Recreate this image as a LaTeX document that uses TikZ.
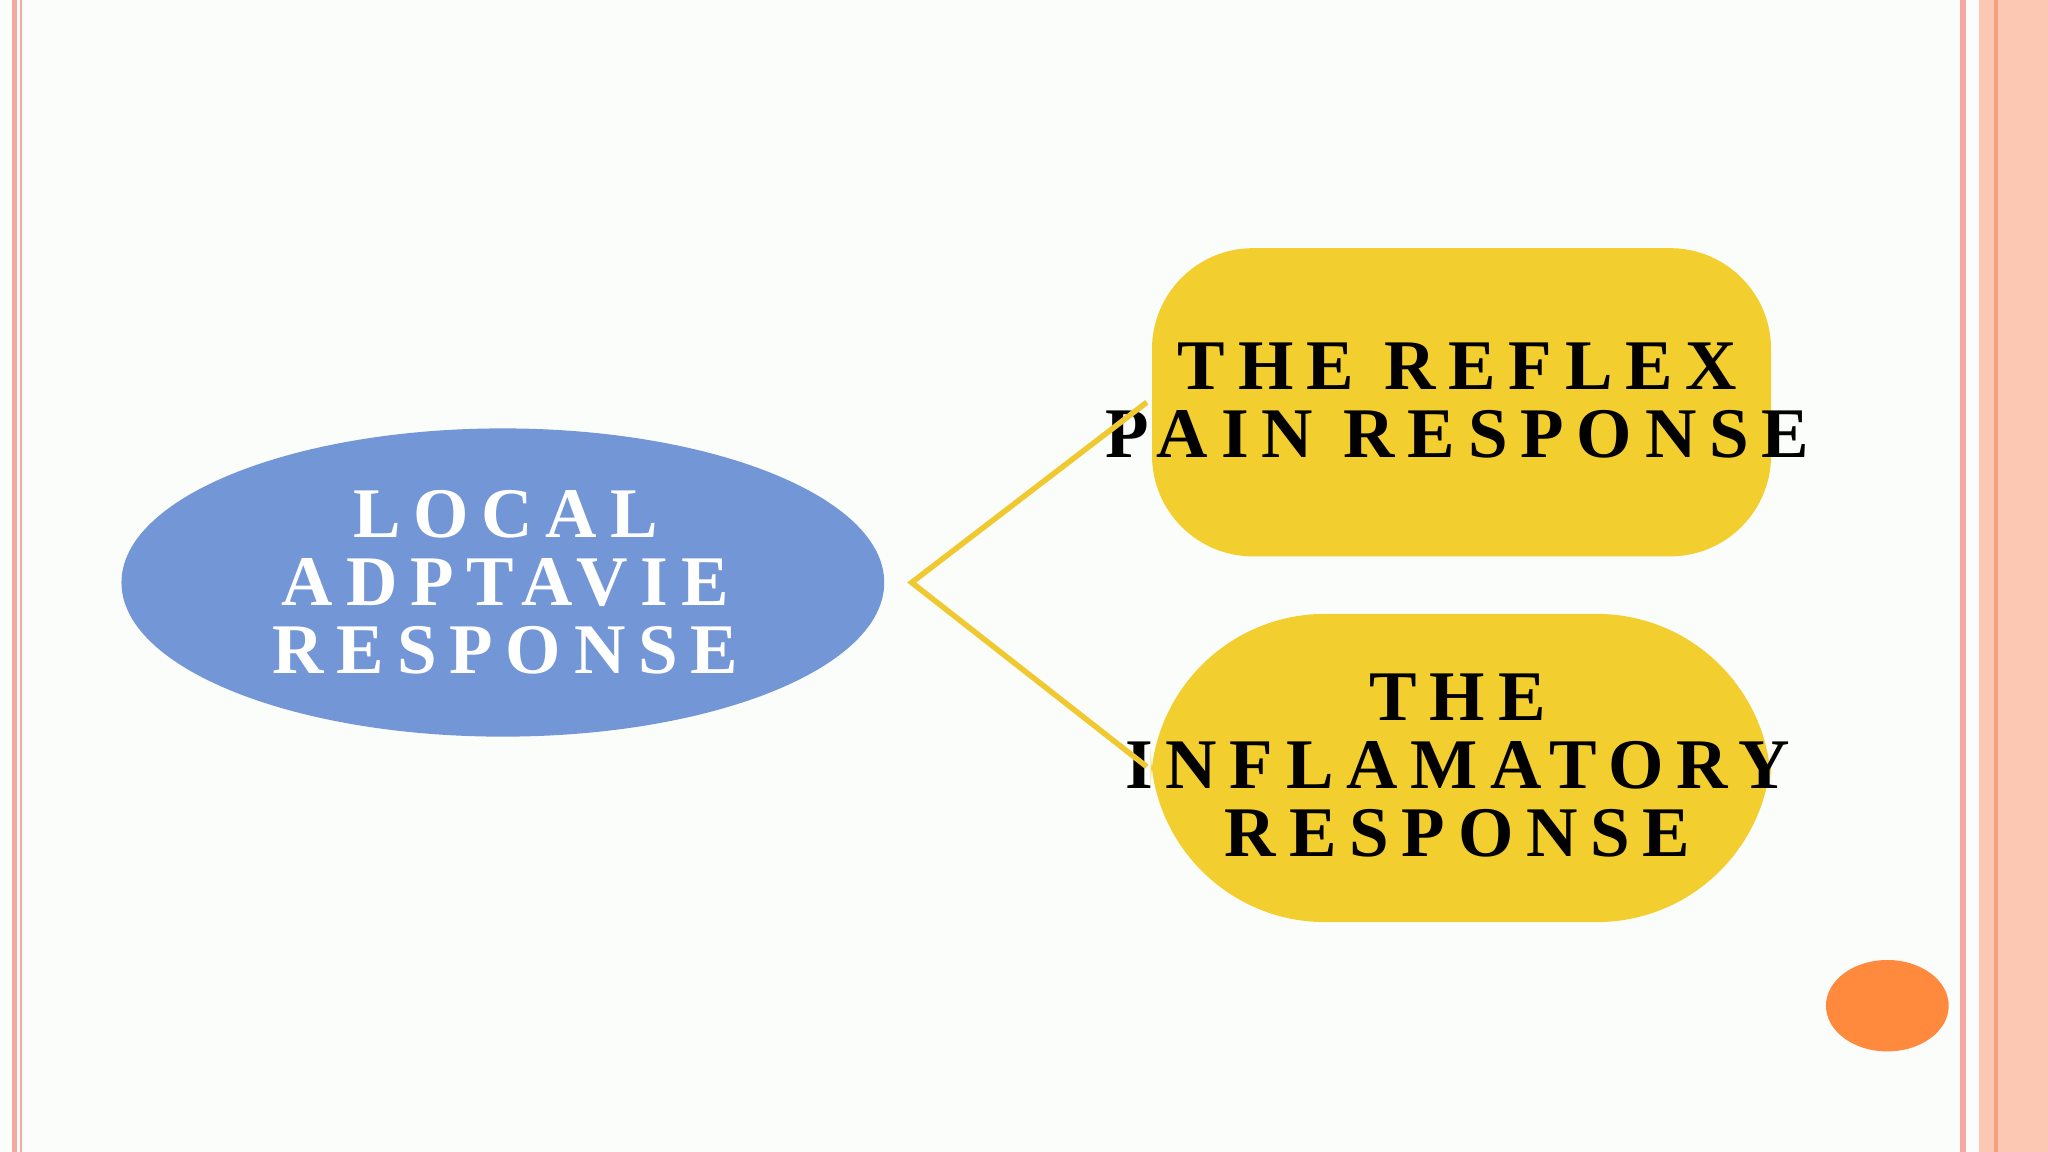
\documentclass[tikz,border=0pt]{standalone}
\usepackage{fontspec}
\setmainfont{Liberation Serif}
\begin{document}
\begin{tikzpicture}[x=0.01cm,y=-0.01cm,
  lbl/.style={font=\fontsize{15.5}{14.8}\selectfont\bfseries\addfontfeature{LetterSpace=18}, align=center},
  box/.style={fill=boxy, draw=none},
  conn/.style={draw=liney, line width=1.2pt}]
\definecolor{bg}{HTML}{FBFDFB}
\definecolor{pinkl}{HTML}{F4A8A0}
\definecolor{band}{HTML}{FCC8B4}
\definecolor{ell}{HTML}{7396D6}
\definecolor{boxy}{HTML}{F3CE2F}
\definecolor{liney}{HTML}{F0C830}
\definecolor{orng}{HTML}{FF8A3D}
\useasboundingbox (0,0) rectangle (1568,882);
\fill[bg] (0,0) rectangle (1568,882);
\draw[pinkl, line width=1.2pt] (11,0) -- (11,882);
\draw[pinkl, line width=0.6pt] (16,0) -- (16,882);
\draw[pinkl, line width=1.2pt] (1503,0) -- (1503,882);
\fill[band] (1515,0) rectangle (1568,882);
\draw[pinkl!80!orange, line width=0.8pt] (1528,0) -- (1528,882);
\fill[ell] (385,446) ellipse [x radius=292, y radius=118];
\node[lbl, text=white] (a) at (387,446) {LOCAL\\ADPTAVIE\\RESPONSE};
\coordinate (j) at (698,446);
\fill[box, rounded corners=22] (882,190) rectangle (1356,426);
\node[lbl] (b) at (1116,307) {THE REFLEX\\PAIN RESPONSE};
\coordinate (bl) at (878,308);
\fill[box, rounded corners=38] (881,470) rectangle (1356,706);
\node[lbl] (c) at (1116,586) {THE\\INFLAMATORY\\RESPONSE};
\coordinate (cl) at (878,587);
\draw[conn] (bl) -- (j) -- (cl);
\fill[orng] (1445,770) ellipse [x radius=47, y radius=35];
\end{tikzpicture}
\end{document}
